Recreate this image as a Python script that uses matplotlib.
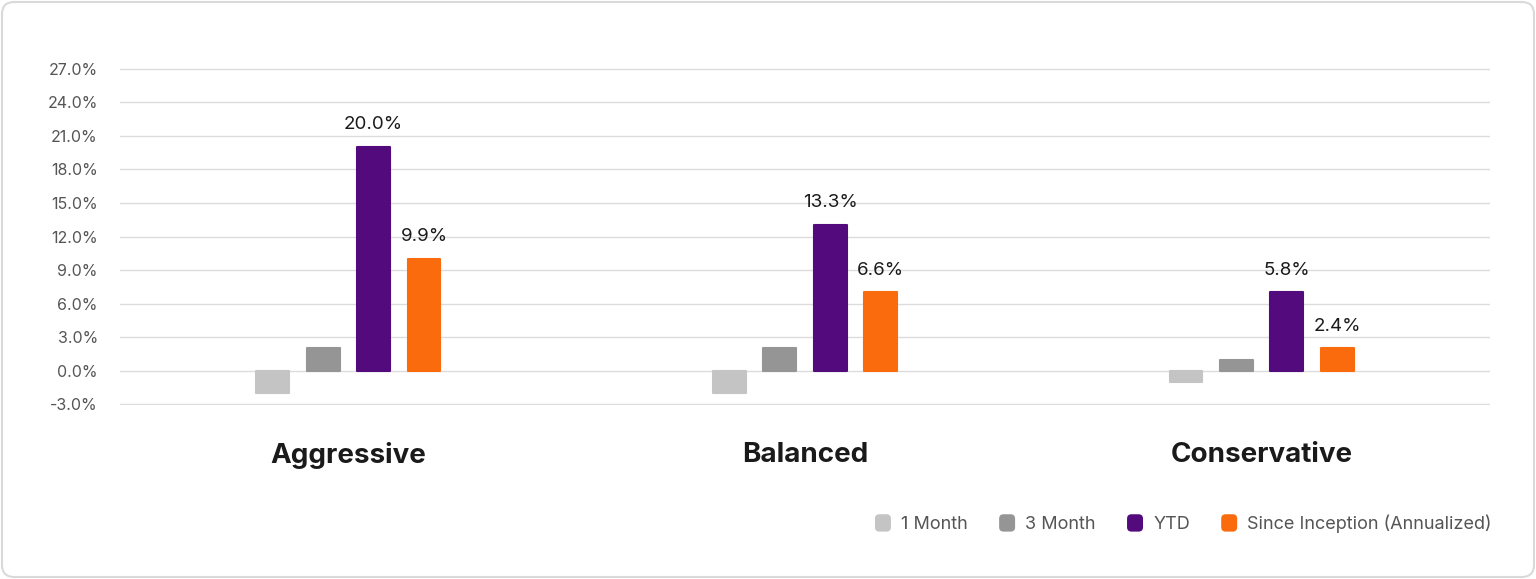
import matplotlib
matplotlib.use("Agg")
import matplotlib.pyplot as plt
import numpy as np
from matplotlib.patches import FancyBboxPatch, Patch
from matplotlib.legend_handler import HandlerPatch
from matplotlib.ticker import FuncFormatter, MultipleLocator

plt.rcParams['font.family'] = ['Inter', 'DejaVu Sans']

categories = ["Aggressive", "Balanced", "Conservative"]
series_names = ["1 Month", "3 Month", "YTD", "Since Inception (Annualized)"]
one_month = [-2.0, -2.0, -1.0]
three_month = [2.0, 2.0, 1.0]
ytd = [20.0, 13.0, 7.0]
since_inception = [10.0, 7.0, 2.0]
ytd_labels = [20.0, 13.3, 5.8]
since_inception_labels = [9.9, 6.6, 2.4]
colors = ["#c4c4c4", "#959595", "#520a7c", "#f96b0c"]

fig = plt.figure(figsize=(15.36, 5.79), dpi=100)
ax = fig.add_axes([120/1536, 1-405/579, 1370/1536, 337/579])

# border
border = FancyBboxPatch((2/1536, 2/579), 1532/1536, 575/579,
                        boxstyle="round,pad=0,rounding_size=0.008",
                        transform=fig.transFigure, fc="white", ec="#d9d9d9", lw=1.5,
                        mutation_aspect=1536/579, zorder=-10)
fig.patches.append(border)

x = np.arange(len(categories))
offsets = np.array([-1.5, -0.5, 0.5, 1.5]) * 0.1105
width = 0.072
series = [one_month, three_month, ytd, since_inception]
bars = []
for s, off, c in zip(series, offsets, colors):
    b = ax.bar(x + off, s, width, color=c, edgecolor=c, linewidth=1.5, joinstyle='round', zorder=3)
    bars.append(b)

for bset, labels in ((bars[2], ytd_labels), (bars[3], since_inception_labels)):
    for rect, v in zip(bset, labels):
        ax.annotate(f"{v:.1f}%", (rect.get_x() + rect.get_width()/2, rect.get_height()),
                    xytext=(0, 10), textcoords="offset points", ha="center", va="bottom",
                    fontsize=13.5, color="#1a1a1a")

ax.set_xlim(-0.5, 2.5)
ax.set_ylim(-3.05, 27.05)
ax.yaxis.set_major_locator(MultipleLocator(3))
ax.yaxis.set_major_formatter(FuncFormatter(lambda v, p: f"{v:.1f}%"))
ax.grid(axis='y', color="#dcdcdc", linewidth=1, zorder=0)
ax.set_axisbelow(True)
for sp in ax.spines.values():
    sp.set_visible(False)
ax.tick_params(axis='y', length=0, pad=16, labelsize=11.5, labelcolor="#555555")
ax.tick_params(axis='x', length=0, pad=26.5, labelsize=20)
ax.set_xticks(x)
ax.set_xticklabels(categories, fontweight='bold', color="#1a1a1a")


class RoundHandler(HandlerPatch):
    def create_artists(self, legend, orig_handle, xdescent, ydescent, width, height, fontsize, trans):
        w, h = 11.5, 12.5
        p = FancyBboxPatch((-xdescent + (width - w)/2, -ydescent + (height - h)/2), w, h,
                           boxstyle="round,pad=0,rounding_size=3.2",
                           fc=orig_handle.get_facecolor(), ec='none', transform=trans)
        return [p]

handles = [Patch(color=c, label=n) for c, n in zip(colors, series_names)]
leg = fig.legend(handles=handles, loc="center right", bbox_to_anchor=(1508/1536, 1-524/579),
                 ncol=4, frameon=False, fontsize=13, handler_map={Patch: RoundHandler()},
                 handlelength=0.9, handletextpad=0.55, columnspacing=1.73, labelcolor="#555555")

fig.savefig("out.png", dpi=100, facecolor="white")
